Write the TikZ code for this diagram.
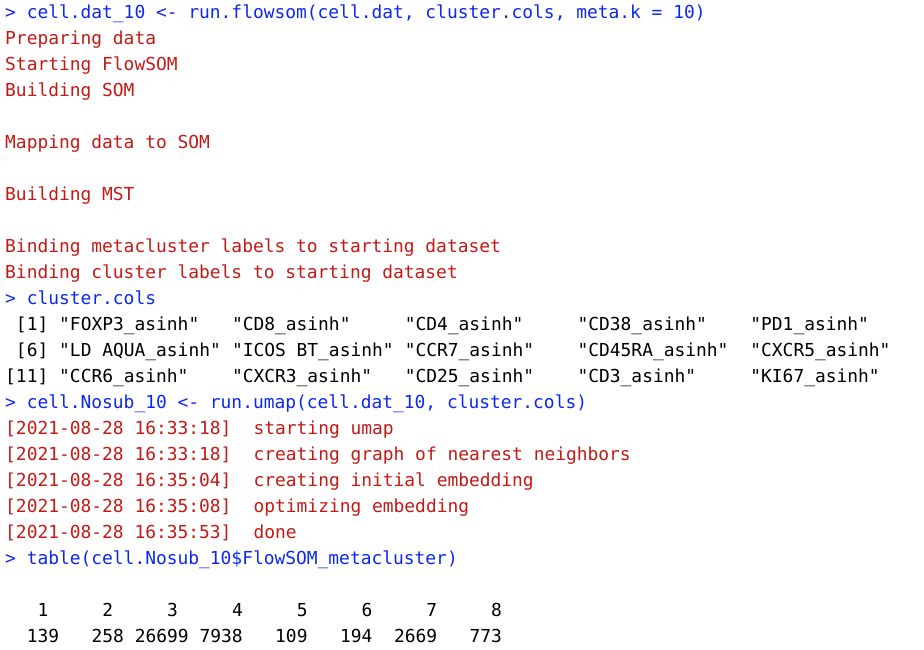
\documentclass[tikz,border=0pt]{standalone}
\usepackage{fontspec}
\setmonofont{DejaVu Sans Mono}
\definecolor{cmd}{RGB}{12,40,240}
\definecolor{msg}{RGB}{196,26,22}
\definecolor{out}{RGB}{0,0,0}
\newcommand{\tk}[4]{\node[anchor=base west,inner sep=0pt,text=#3] at ({5+10.8*#2},{650-19-26*#1}) {#4};}
\begin{document}
\begin{tikzpicture}[x=1pt,y=1pt,font=\fontsize{17.9}{26}\ttfamily]
\useasboundingbox[fill=white] (0,0) rectangle (924,650);
\tk{0}{0}{cmd}{> cell.dat\_10 <- run.flowsom(cell.dat, cluster.cols, meta.k = 10)}
\tk{1}{0}{msg}{Preparing data}
\tk{2}{0}{msg}{Starting FlowSOM}
\tk{3}{0}{msg}{Building SOM}
\tk{5}{0}{msg}{Mapping data to SOM}
\tk{7}{0}{msg}{Building MST}
\tk{9}{0}{msg}{Binding metacluster labels to starting dataset}
\tk{10}{0}{msg}{Binding cluster labels to starting dataset}
\tk{11}{0}{cmd}{> cluster.cols}
\tk{12}{1}{out}{[1]}
\tk{12}{5}{out}{"FOXP3\_asinh"}
\tk{12}{21}{out}{"CD8\_asinh"}
\tk{12}{37}{out}{"CD4\_asinh"}
\tk{12}{53}{out}{"CD38\_asinh"}
\tk{12}{69}{out}{"PD1\_asinh"}
\tk{13}{1}{out}{[6]}
\tk{13}{5}{out}{"LD AQUA\_asinh"}
\tk{13}{21}{out}{"ICOS BT\_asinh"}
\tk{13}{37}{out}{"CCR7\_asinh"}
\tk{13}{53}{out}{"CD45RA\_asinh"}
\tk{13}{69}{out}{"CXCR5\_asinh"}
\tk{14}{0}{out}{[11]}
\tk{14}{5}{out}{"CCR6\_asinh"}
\tk{14}{21}{out}{"CXCR3\_asinh"}
\tk{14}{37}{out}{"CD25\_asinh"}
\tk{14}{53}{out}{"CD3\_asinh"}
\tk{14}{69}{out}{"KI67\_asinh"}
\tk{15}{0}{cmd}{> cell.Nosub\_10 <- run.umap(cell.dat\_10, cluster.cols)}
\tk{16}{0}{msg}{[2021-08-28 16:33:18]}\tk{16}{23}{msg}{starting umap}
\tk{17}{0}{msg}{[2021-08-28 16:33:18]}\tk{17}{23}{msg}{creating graph of nearest neighbors}
\tk{18}{0}{msg}{[2021-08-28 16:35:04]}\tk{18}{23}{msg}{creating initial embedding}
\tk{19}{0}{msg}{[2021-08-28 16:35:08]}\tk{19}{23}{msg}{optimizing embedding}
\tk{20}{0}{msg}{[2021-08-28 16:35:53]}\tk{20}{23}{msg}{done}
\tk{21}{0}{cmd}{> table(cell.Nosub\_10\$FlowSOM\_metacluster)}
\tk{23}{3}{out}{1}\tk{23}{9}{out}{2}\tk{23}{15}{out}{3}\tk{23}{21}{out}{4}
\tk{23}{27}{out}{5}\tk{23}{33}{out}{6}\tk{23}{39}{out}{7}\tk{23}{45}{out}{8}
\tk{24}{2}{out}{139}\tk{24}{8}{out}{258}\tk{24}{12}{out}{26699}\tk{24}{18}{out}{7938}
\tk{24}{25}{out}{109}\tk{24}{31}{out}{194}\tk{24}{36}{out}{2669}\tk{24}{43}{out}{773}
\end{tikzpicture}
\end{document}
